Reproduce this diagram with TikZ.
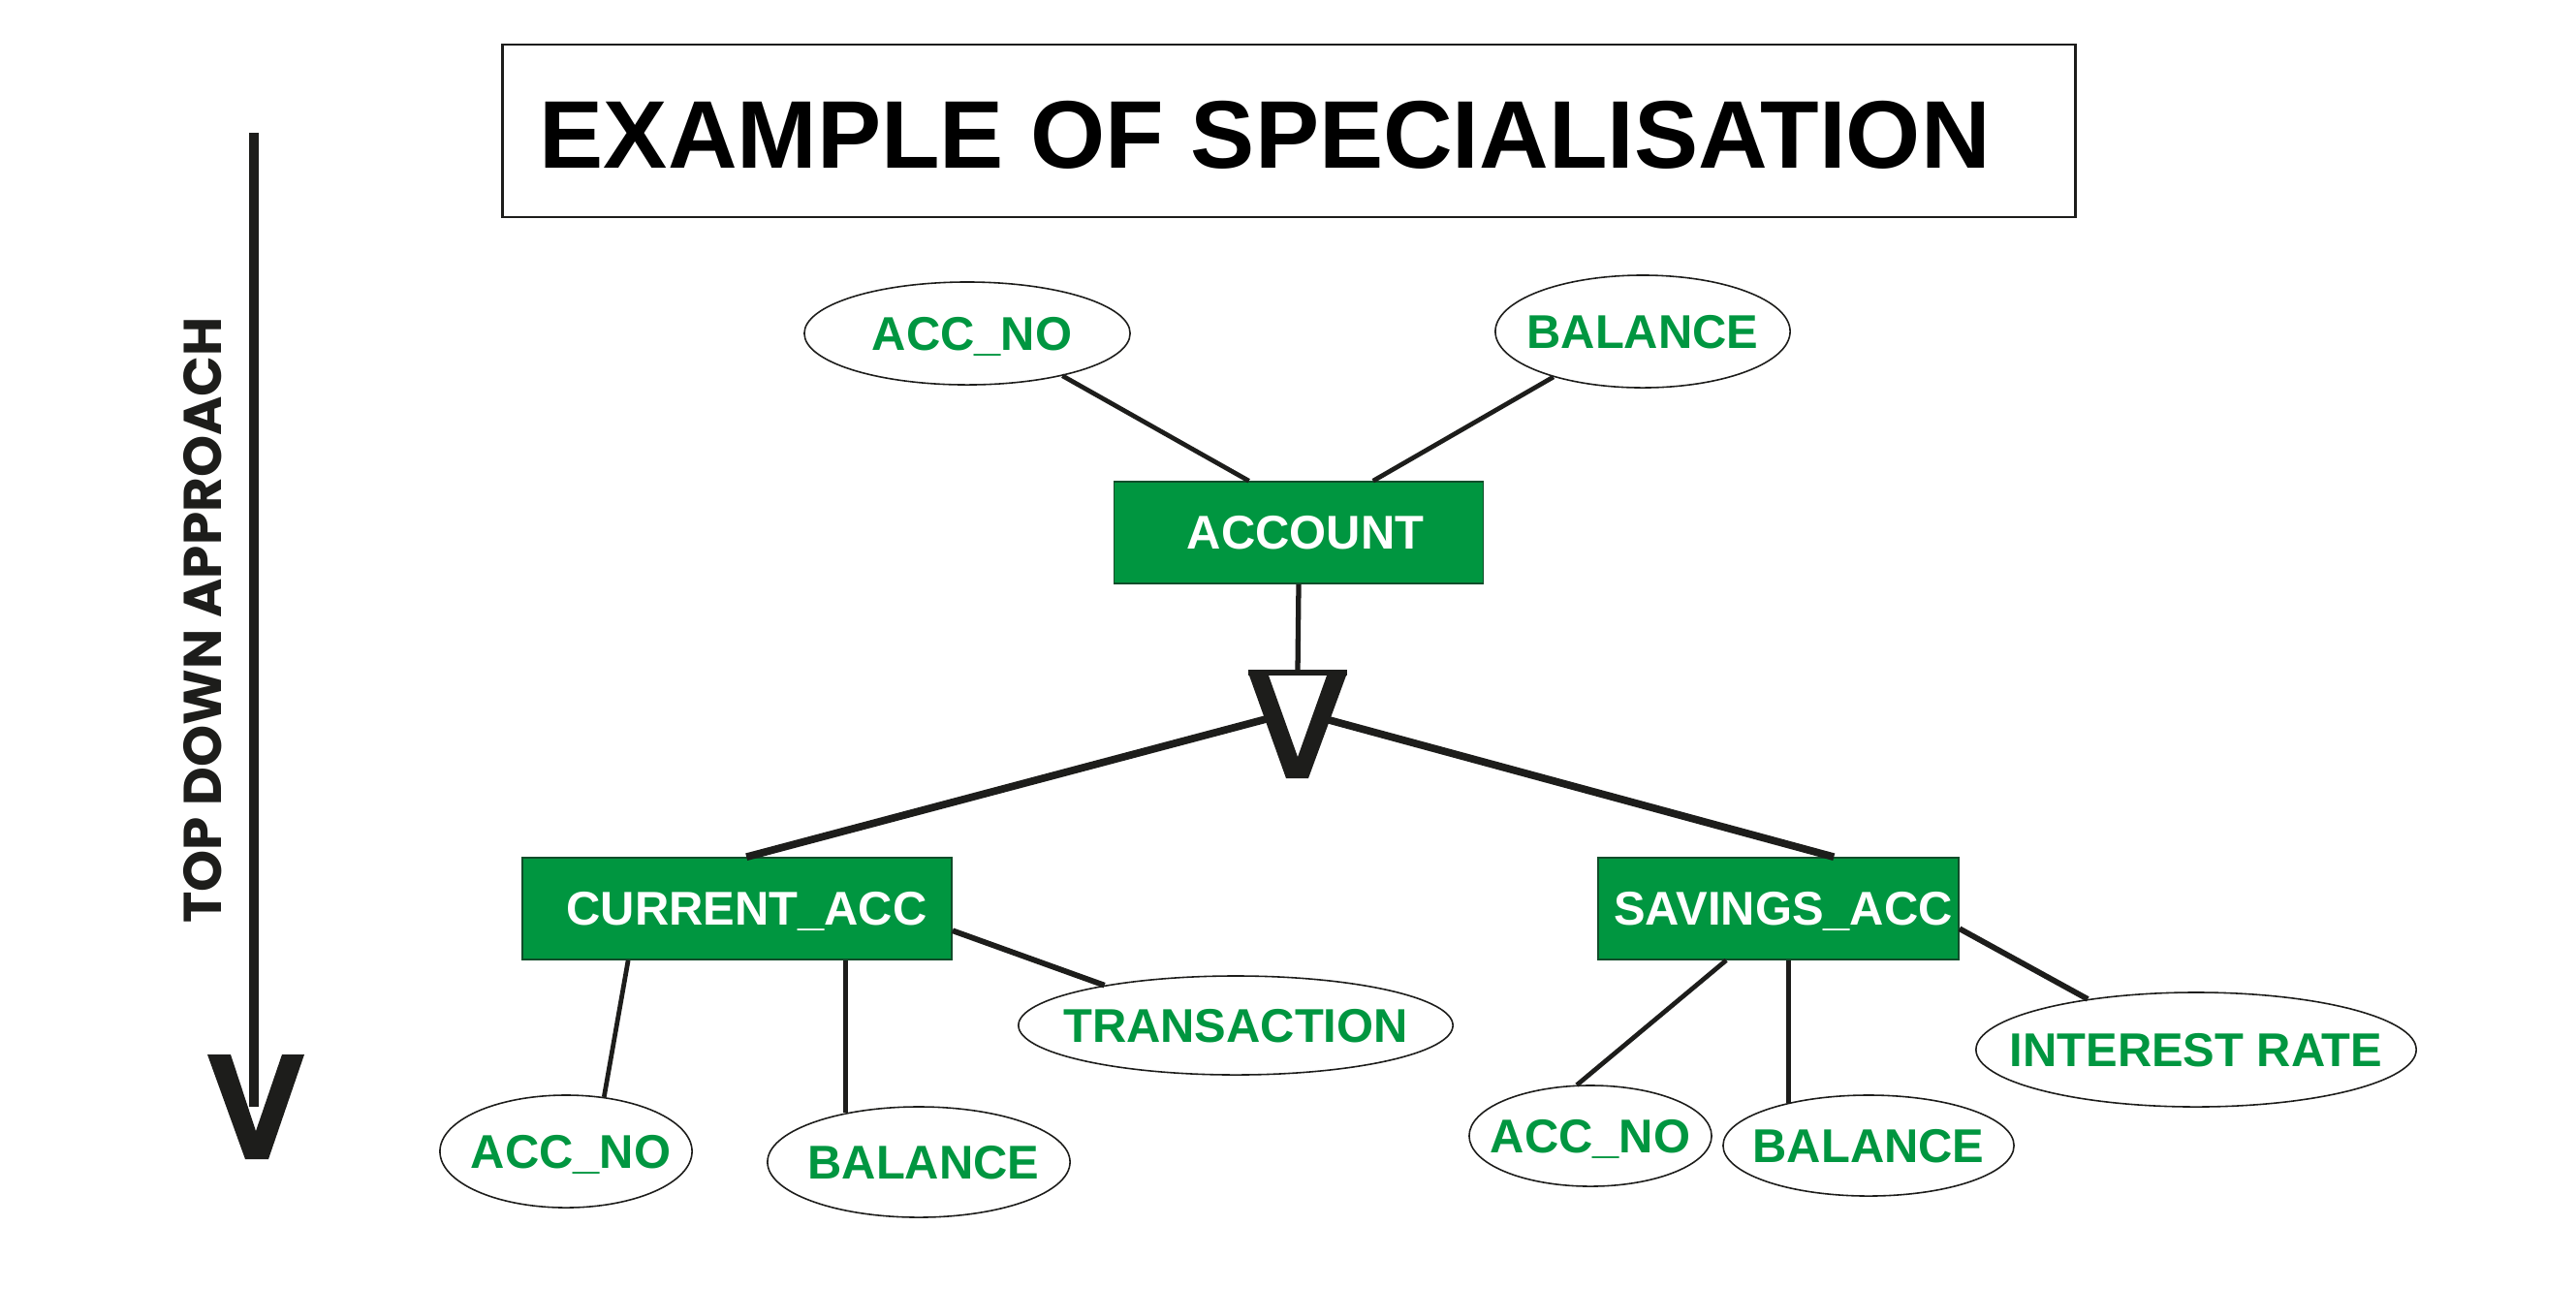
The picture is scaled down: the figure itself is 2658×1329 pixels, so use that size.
\documentclass[tikz,border=0pt]{standalone}
\usepackage{fontspec}
\setmainfont{Liberation Sans}
\newfontfamily\vfont{Poppins}
\usetikzlibrary{shapes.geometric,calc}
\definecolor{erg}{RGB}{0,150,64}
\definecolor{ink}{RGB}{29,29,27}
\newcommand{\zw}[1]{\makebox[0pt]{#1}}
\begin{document}
\begin{tikzpicture}[x=0.01cm,y=-0.01cm,
 attr/.style={ellipse,draw=ink,line width=0.45pt,inner sep=0pt,text=erg,text depth=0pt,
   font=\fontsize{13.9}{16}\selectfont\bfseries},
 ent/.style={rectangle,draw=ink!60!erg,line width=0.45pt,fill=erg,text=white,inner sep=0pt,text depth=0pt,
   font=\fontsize{13.9}{16}\selectfont\bfseries},
 attrlink/.style={draw=ink,line width=1.35pt},
 attrlinkb/.style={draw=ink,line width=1.65pt},
 isalink/.style={draw=ink,line width=2.2pt},
 stemlink/.style={draw=ink,line width=1.5pt},
 solidmark/.style={fill=ink,draw=none}]
\useasboundingbox[fill=white] (0,0) rectangle (2658,1329);

% title
\node[draw=ink,line width=0.6pt,minimum width=16.22cm,minimum height=1.78cm,inner sep=0pt] (titlebox) at (1330,135) {};
\node[anchor=base west,inner sep=0pt,font=\fontsize{28.2}{32}\selectfont\bfseries] (title) at (556,173) {EXAMPLE OF SPECIALISATION};

% left arrow and label
\coordinate (arrtop) at (262,137);
\coordinate (arrbot) at (262,1142);
\draw[draw=ink,line width=0.1cm] (arrtop) -- (arrbot);
\fill[solidmark] (214,1088) -- (253,1196) -- (277,1196) -- (314,1088) -- (291,1088) -- (264,1167) -- (238,1088) -- cycle;
\node[rotate=90,inner sep=0pt,text=ink,font=\vfont\fontsize{15.6}{18}\selectfont\bfseries] (td) at (209,640) {TOP DOWN APPROACH};

% entities
\node[ent,minimum width=3.81cm,minimum height=1.05cm] (account) at (1340,549.5) {\zw{\hspace{0.14cm}ACCOUNT}};
\node[ent,minimum width=4.43cm,minimum height=1.05cm] (cur) at (760.5,937.5) {\zw{\hspace{0.2cm}CURRENT\_ACC}};
\node[ent,minimum width=3.72cm,minimum height=1.05cm] (sav) at (1835,937.5) {\zw{\hspace{0.1cm}SAVINGS\_ACC}};

% attributes
\node[attr,minimum width=3.36cm,minimum height=1.06cm] (a1) at (998,344) {\zw{\hspace{0.1cm}ACC\_NO}};
\node[attr,minimum width=3.04cm,minimum height=1.16cm] (b1) at (1695,342) {\zw{BALANCE}};
\node[attr,minimum width=2.60cm,minimum height=1.16cm] (a2) at (584,1188) {\zw{\hspace{0.1cm}ACC\_NO}};
\node[attr,minimum width=3.12cm,minimum height=1.14cm] (b2) at (948,1199) {\zw{\hspace{0.1cm}BALANCE}};
\node[attr,minimum width=4.48cm,minimum height=1.02cm] (tr) at (1275,1058) {\zw{TRANSACTION}};
\node[attr,minimum width=2.50cm,minimum height=1.04cm] (a3) at (1641,1172) {\zw{ACC\_NO}};
\node[attr,minimum width=3.00cm,minimum height=1.04cm] (b3) at (1928,1182) {\zw{BALANCE}};
\node[attr,minimum width=4.54cm,minimum height=1.18cm] (ir) at (2266,1083) {\zw{INTEREST RATE}};

% specialisation symbol
\coordinate (isa) at (1339,692);
\coordinate (vl) at (1310,741);
\coordinate (vr) at (1368,742);
\fill[solidmark] (1288,691) rectangle (1390,697);
\fill[solidmark] (1289,697) -- (1327,803) -- (1350,803) -- (1389,697) -- (1369,697) -- (1339,781) -- (1309,697) -- cycle;

% anchor points on entities
\coordinate (curb) at ([xshift=3.34cm]cur.south west);
\coordinate (savb) at ([xshift=1.97cm]sav.south west);

% connectors
\draw[attrlink] (a1.-24) -- ([xshift=1.40cm]account.north west);
\draw[attrlink] (b1.-153) -- ([xshift=2.68cm]account.north west);
\draw[stemlink] (account.south) -- (isa);
\draw[isalink] (vl) -- ([xshift=2.32cm]cur.north west);
\draw[isalink] (vr) -- ([xshift=2.44cm]sav.north west);

\draw[attrlink] ([xshift=1.10cm]cur.south west) -- (a2.55);
\draw[attrlink] (curb) -- (curb |- b2.146);
\draw[attrlinkb] ([yshift=-0.76cm]cur.north east) -- (tr.163);

\draw[attrlink] ([xshift=1.33cm]sav.south west) -- (a3.105);
\draw[attrlink] (savb) -- (savb |- b3.152);
\draw[attrlinkb] ([yshift=-0.74cm]sav.north east) -- (ir.155);
\end{tikzpicture}
\end{document}
